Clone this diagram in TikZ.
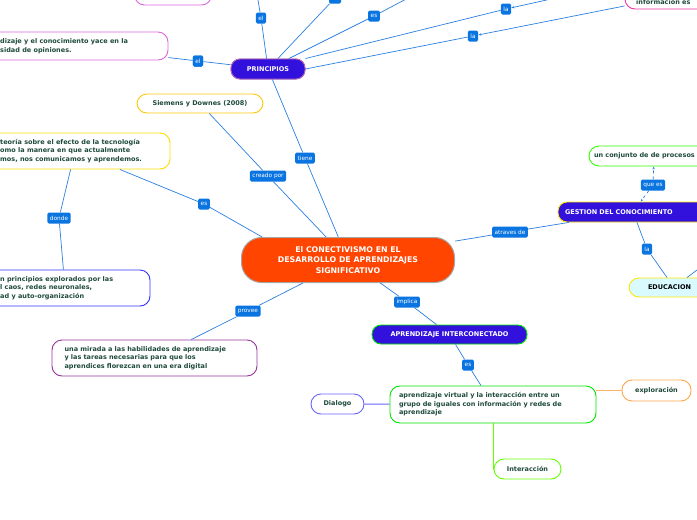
\documentclass[tikz,border=0pt]{standalone}
\usepackage{fontspec}
\setmainfont{DejaVu Sans}
\usetikzlibrary{arrows.meta}
\definecolor{lbl}{HTML}{0A74E0}
\definecolor{ln}{HTML}{2A7FE0}
\definecolor{txt}{HTML}{1E4A3C}
\definecolor{vio}{HTML}{3311DD}
\definecolor{org}{HTML}{FF4500}
\begin{document}
\begin{tikzpicture}[x=1pt,y=-1pt,
 lab/.style={fill=lbl,text=white,rounded corners=1.5pt,font=\fontsize{5.8}{7}\selectfont,inner sep=2.5pt,minimum height=11pt},
 box/.style={draw,line width=0.9pt,rounded corners=10pt,fill=white,text=txt,font=\fontsize{6.5}{8.5}\selectfont\bfseries,align=left,inner sep=0pt},
 tx/.style={text=txt,font=\fontsize{6.5}{8.5}\selectfont\bfseries,align=left,inner sep=0pt,anchor=west},
 dark/.style={draw,line width=0.9pt,rounded corners=9pt,fill=vio,text=white,font=\fontsize{6.5}{8}\selectfont\bfseries,inner sep=0pt},
 con/.style={draw=ln,line width=0.7pt}]
\useasboundingbox (0,0) rectangle (697,520);
% nodes
\node[draw=gray!70,line width=1pt,fill=org,rounded corners=20pt,minimum width=213pt,minimum height=45pt,text=white,font=\fontsize{7.8}{10.5}\selectfont\bfseries,align=center] (main) at (348,260) {El CONECTIVISMO EN EL\\DESARROLLO DE APRENDIZAJES\\SIGNIFICATIVO};
\node[dark,draw=violet!60,minimum width=74pt,minimum height=20pt] (pri) at (268,69) {PRINCIPIOS};
\node[box,draw=violet!50!magenta!60,minimum width=200pt,minimum height=28pt] (el1) at (68,46) {};
\node[tx] (el1t) at (0,46) {dizaje y el conocimiento yace en la\\sidad de opiniones.};
\node[box,draw=violet!50!magenta!60,minimum width=77pt,minimum height=30pt] (tl) at (173,-10) {};
\node[box,draw=magenta!80,minimum width=110pt,minimum height=28pt] (pink) at (680,-5) {};
\node[tx] (pinkt) at (636,2) {información  es};
\node[box,draw=yellow!60!orange,minimum width=126pt,minimum height=19pt,align=center] (sie) at (200,103.5) {Siemens y Downes (2008)};
\node[box,draw=yellow!80!orange,minimum width=190pt,minimum height=36pt] (teo) at (75,151) {};
\node[tx] (teot) at (0,151) {teoría  sobre el efecto de la tecnología\\omo la manera en que actualmente\\mos,  nos  comunicamos y aprendemos.};
\node[box,draw=blue!80,minimum width=170pt,minimum height=36pt] (pe) at (65,288) {};
\node[tx] (pet) at (0,288) {n principios explorados por las\\l caos, redes neuronales,\\ad y auto-organización};
\node[box,draw=violet!80,minimum width=205pt,minimum height=36pt,text width=180pt] (mir) at (154.5,358) {una mirada a las habilidades de aprendizaje\\y las tareas necesarias para que los\\aprendices florezcan en una era digital};
\node[dark,draw=yellow!90!orange,minimum width=150pt,minimum height=20pt,text width=136pt] (ges) at (633,212) {GESTION DEL CONOCIMIENTO};
\node[box,draw=green!80!yellow,minimum width=130pt,minimum height=20pt,text width=120pt] (con) at (654,156) {un conjunto de de procesos};
\node[box,draw=yellow!90!orange,fill=blue!10!cyan!15,text=black,minimum width=90pt,minimum height=19pt,text width=76pt] (edu) at (674,287.5) {\hspace*{12pt}EDUCACION};
\node[dark,draw=green!90!black,minimum width=155pt,minimum height=19pt] (api) at (449.5,334.5) {APRENDIZAJE INTERCONECTADO};
\node[box,draw=green!90!black,minimum width=206pt,minimum height=37pt,text width=188pt] (av) at (493,404.5) {aprendizaje virtual y la interacción entre un\\grupo de iguales con información y redes de\\aprendizaje};
\node[box,draw=blue!60,minimum width=53pt,minimum height=20pt,align=center] (dia) at (337.5,404) {Dialogo};
\node[box,draw=orange!70,minimum width=69pt,minimum height=21pt,align=center] (exp) at (656.5,390.5) {exploración};
\node[box,draw=green!60!yellow,minimum width=67pt,minimum height=20pt,align=center] (int) at (527.5,469) {Interacción};
% free ends
\coordinate (t1) at (258,0);
\coordinate (t3) at (410,-3);
\coordinate (t4) at (560,-3);
\coordinate (er) at (697,270);
% labels
\node[lab] (l1) at (198,61) {el};
\node[lab] (l2) at (261,18) {el};
\node[lab,minimum width=12pt] (l3) at (335,-2) {};
\node[lab] (l4) at (374,16) {es};
\node[lab] (l5) at (506,9) {la};
\node[lab] (l6) at (473,36) {la};
\node[lab] (tiene) at (305,158) {tiene};
\node[lab] (cre) at (268,176) {creado por};
\node[lab] (es1) at (204,204) {es};
\node[lab] (don) at (59,218) {donde};
\node[lab] (prov) at (248,311) {provee};
\node[lab] (imp) at (407,302) {implica};
\node[lab] (atr) at (510,232) {atraves de};
\node[lab] (que) at (653,185) {que es};
\node[lab] (la2) at (647,249) {la};
\node[lab] (es2) at (468,365) {es};
% connectors
\draw[con] (main) -- (tiene) -- (pri);
\draw[con] (main) -- (cre) -- (sie);
\draw[con] (main.165) -- (es1) -- (teo);
\draw[con] (teo) -- (don) -- (pe);
\draw[con] (main) -- (prov) -- (mir);
\draw[con] (main) -- (imp) -- (api);
\draw[con] (main.10) -- (atr) -- (ges);
\draw[con,dashed,-{Stealth[length=3pt]}] (que) -- (con);
\draw[con,dashed,-{Stealth[length=3pt]}] (que) -- (ges);
\draw[con] (ges) -- (la2) -- (edu);
\draw[con] (edu) -- (er);
\draw[con] (api) -- (es2) -- (av);
\draw[draw=blue!60,line width=0.9pt] (dia) -- (av);
\draw[draw=orange!60,line width=0.9pt] (av.east) ++(0,-14) -- (exp.west);
\draw[draw=green!60!yellow,line width=0.9pt] (av.south) |- (int.west);
\draw[con] (pri) -- (l1) -- (el1);
\draw[con] (pri) -- (l2) -- (t1);
\draw[con] (pri) -- (l3);
\draw[con] (pri) -- (l4) -- (t3);
\draw[con,{Stealth[length=3pt]}-] (pri.north east) -- (l5) -- (t4);
\draw[con,{Stealth[length=3pt]}-] (pri.east) -- (l6) -- (pink);
% redraw on top
\node[dark,draw=violet!60,minimum width=74pt,minimum height=20pt] at (268,69) {PRINCIPIOS};
\node[lab] at (198,61) {el};
\end{tikzpicture}
\end{document}
